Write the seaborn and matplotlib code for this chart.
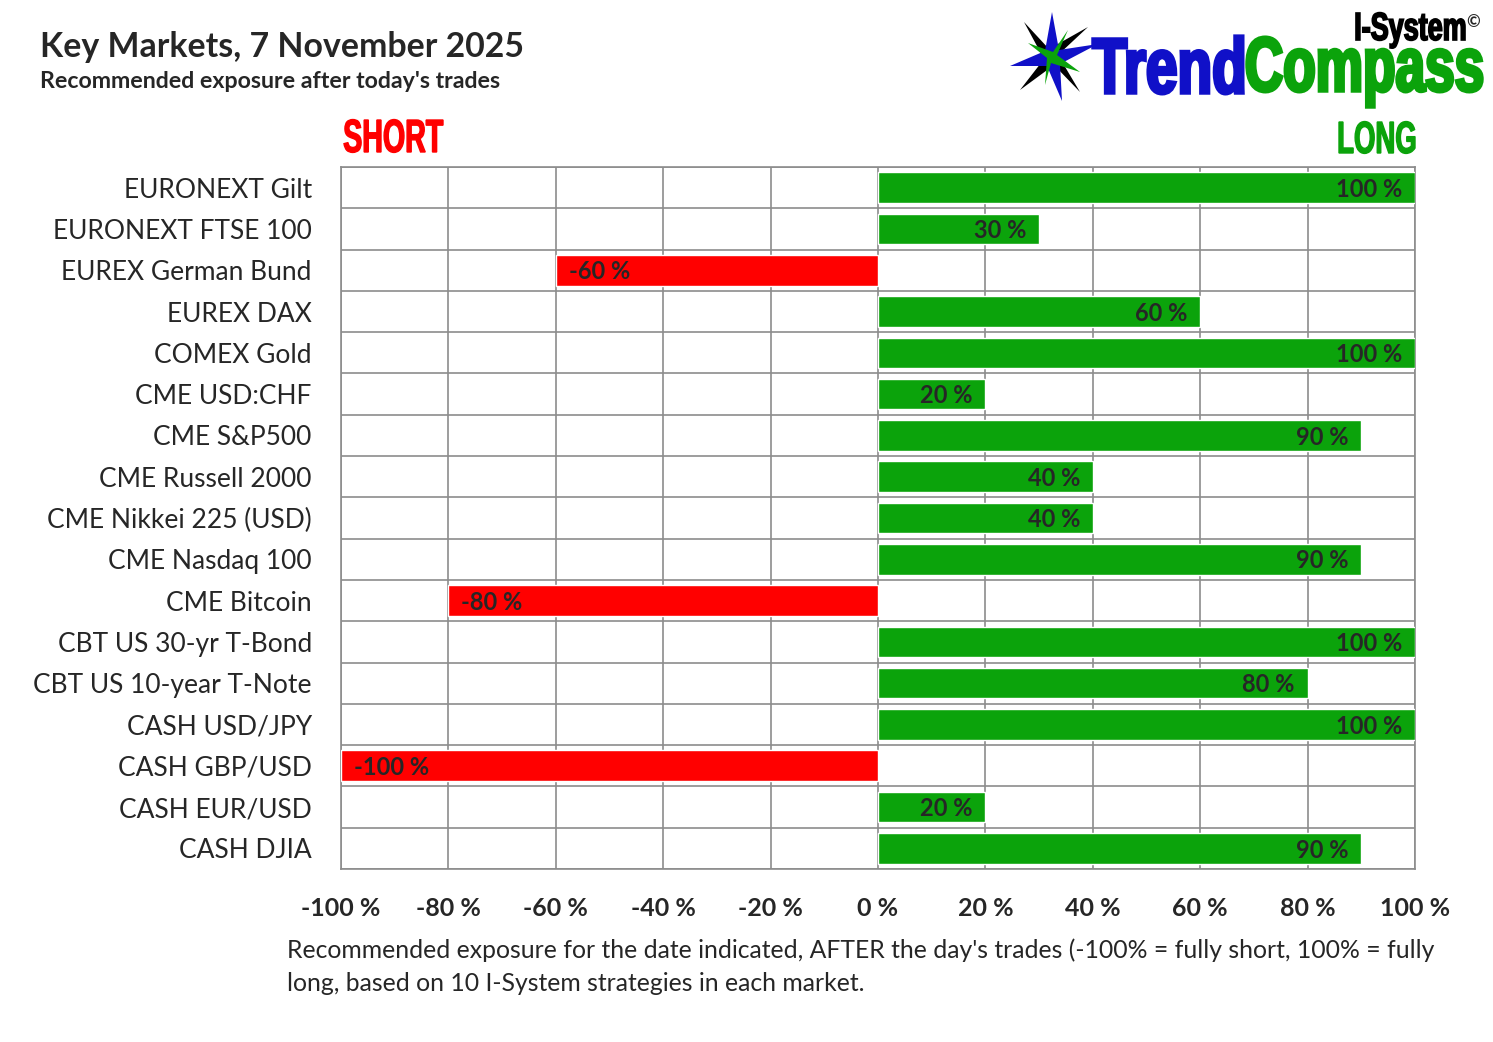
import numpy as np
import pandas as pd
import matplotlib
matplotlib.use('Agg')
import matplotlib.pyplot as plt
from matplotlib.patches import Polygon, PathPatch
from matplotlib.textpath import TextPath
from matplotlib.font_manager import FontProperties
from matplotlib.transforms import Affine2D
import seaborn as sns

# --- data ---
markets = ['EURONEXT Gilt', 'EURONEXT FTSE 100', 'EUREX German Bund', 'EUREX DAX',
           'COMEX Gold', 'CME USD:CHF', 'CME S&P500', 'CME Russell 2000',
           'CME Nikkei 225 (USD)', 'CME Nasdaq 100', 'CME Bitcoin',
           'CBT US 30-yr T-Bond', 'CBT US 10-year T-Note', 'CASH USD/JPY',
           'CASH GBP/USD', 'CASH EUR/USD', 'CASH DJIA']
exposure = [100, 30, -60, 60, 100, 20, 90, 40, 40, 90, -80, 100, 80, 100, -100, 20, 90]
x_ticks = [-100, -80, -60, -40, -20, 0, 20, 40, 60, 80, 100]

title = 'Key Markets, 7 November 2025'
subtitle = "Recommended exposure after today's trades"
foot1 = "Recommended exposure for the date indicated, AFTER the day's trades (-100% = fully short, 100% = fully"
foot2 = "long, based on 10 I-System strategies in each market."

GREEN = '#0ba30b'
RED = '#ff0000'
BLUE = '#1010c8'
GRID = '#8c8c8c'

sns.set_style('white')
plt.rcParams['font.family'] = ['Lato', 'DejaVu Sans']

df = pd.DataFrame({'market': markets, 'exposure': exposure})
df['side'] = np.where(df['exposure'] < 0, 'short', 'long')

W, H = 1493, 1042
fig = plt.figure(figsize=(W / 100, H / 100), dpi=100)


def px(x, y):
    return x / W, 1 - y / H


def fit_text(s, x0, x1, y_top, y_base, color, lw=1.0):
    # condensed heavy lettering: squeeze a bold outline into a pixel box
    fp = FontProperties(family='Liberation Sans', weight='bold')
    tp = TextPath((0, 0), s, size=100, prop=fp)
    cap = TextPath((0, 0), 'H', size=100, prop=fp).get_extents().y1
    ext = tp.get_extents()
    sx = (x1 - x0) / ext.width
    sy = (y_base - y_top) / cap
    tr = (Affine2D().translate(-ext.x0, 0).scale(sx, sy)
          .translate(x0, H - y_base).scale(1 / W, 1 / H) + fig.transFigure)
    fig.add_artist(PathPatch(tp, facecolor=color, edgecolor=color, linewidth=lw,
                             transform=tr))


ax = fig.add_axes([341 / W, 1 - 869 / H, (1415 - 341) / W, (869 - 167) / H])
sns.barplot(data=df, x='exposure', y='market', hue='side', orient='h', dodge=False,
            palette={'long': GREEN, 'short': RED}, width=0.74, legend=False,
            saturation=1, ax=ax, zorder=3)

n = len(markets)
ax.set_xlim(-100, 100)
ax.set_ylim(n - 0.5, -0.5)
ax.set_xticks(x_ticks)
ax.set_xticklabels([f'{t} %' for t in x_ticks], fontsize=18, fontweight='bold')
ax.set_yticks(range(n))
ax.set_yticklabels(markets, fontsize=19)
ax.set_yticks(np.arange(-0.5, n, 1), minor=True)
ax.tick_params(axis='x', length=0, pad=20)
ax.tick_params(axis='y', which='both', length=0, pad=21)
ax.grid(axis='x', which='major', color=GRID, linewidth=1.2, zorder=0)
ax.grid(axis='y', which='minor', color=GRID, linewidth=1.2, zorder=0)
ax.set_axisbelow(True)
ax.set_xlabel('')
ax.set_ylabel('')
for s in ax.spines.values():
    s.set_visible(True)
    s.set_color(GRID)
    s.set_linewidth(1.2)

# value labels inside bars
for i, v in enumerate(exposure):
    if v >= 0:
        ax.text(v - 2.4, i + 0.04, f'{v} %', ha='right', va='center',
                fontsize=17, fontweight='bold', zorder=4)
    else:
        ax.text(v + 2.4, i + 0.04, f'{v} %', ha='left', va='center',
                fontsize=17, fontweight='bold', zorder=4)

# titles
fig.text(*px(40, 57), title, fontsize=24.4, fontweight='bold', va='baseline')
fig.text(*px(40, 88), subtitle, fontsize=16.7, fontweight='bold', va='baseline')
fit_text('SHORT', 344, 443, 120, 152, RED)
fit_text('LONG', 1339, 1415, 122, 153, GREEN)
fig.text(*px(287, 958), foot1, fontsize=17.8, va='baseline')
fig.text(*px(287, 991), foot2, fontsize=17.8, va='baseline')


# logo
def star(points, color):
    poly = Polygon([px(x, y) for x, y in points], closed=True, facecolor=color,
                   edgecolor='none', transform=fig.transFigure)
    fig.add_artist(poly)


cx, cy = 1052, 57
star([(1024, 22), (cx - 3, cy - 8), (1088, 27), (cx + 6, cy - 2), (1080, 92),
      (cx + 2, cy + 8), (1020, 90), (cx - 8, cy + 2)], 'black')
star([(1052, 12), (cx + 7, cy - 7), (1098, 44), (cx + 8, cy + 7), (1062, 101),
      (cx - 5, cy + 9), (1010, 66), (cx - 7, cy - 6)], BLUE)
star([(1068, 30), (cx + 5, cy - 2), (1080, 72), (cx - 1, cy + 6), (1045, 85),
      (cx - 5, cy + 1), (1028, 43), (cx + 1, cy - 5)], GREEN)
fit_text('Trend', 1093, 1243, 39, 93, BLUE, lw=2.5)
fit_text('Compass', 1247, 1482, 38, 91, GREEN, lw=2.5)
fit_text('I-System', 1356, 1465, 13, 40, 'black', lw=1.2)
fig.text(*px(1466, 27), '\u00a9', fontsize=12, fontweight='bold', va='baseline')

fig.savefig('out.png', dpi=100)
